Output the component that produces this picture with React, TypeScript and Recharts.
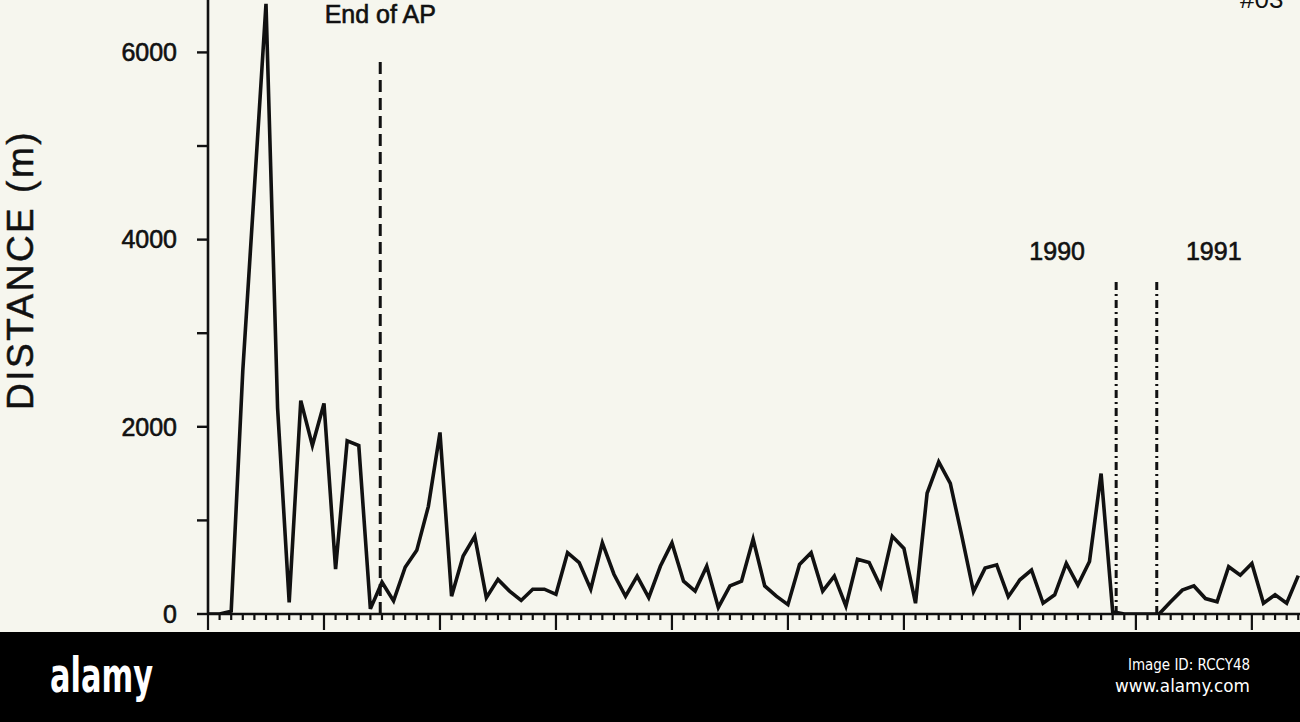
import React from "react";
import { LineChart, Line, XAxis, YAxis, ReferenceLine } from "recharts";

// distance (m) per sample left to right
const distances = [
  0, 0, 30, 2600, 4550, 6520, 2200, 125, 2280, 1800,
  2250, 480, 1850, 1800, 55, 340, 140, 500, 680, 1150,
  1940, 190, 620, 830, 175, 370, 245, 145, 265, 265,
  210, 655, 550, 265, 760, 425, 190, 405, 175, 510,
  760, 350, 245, 510, 70, 300, 350, 800, 300, 190,
  100, 530, 655, 245, 405, 85, 585, 550, 290, 830,
  700, 115, 1290, 1625, 1395, 830, 240, 490, 525, 185,
  365, 470, 115, 205, 540, 310, 560, 1500, 25, 0,
  0, 0, 0, 130, 255, 300, 165, 130, 505, 415,
  540, 115, 205, 115, 410,
];

const yTicks = [0, 1000, 2000, 3000, 4000, 5000, 6000];
const yLabelled = [0, 2000, 4000, 6000];

// vertical markers: position on sample axis, top of the line, label
const markers = [
  { x: 14.85, top: 5960, label: "End of AP", dash: "12 6", dx: 0, dy: -33 },
  { x: 78.3, top: 3565, label: "1990", dash: "8 4 2 4", dx: -59, dy: -20 },
  { x: 81.8, top: 3565, label: "1991", dash: "8 4 2 4", dx: 57, dy: -20 },
];

const data = distances.map((d, i) => ({ idx: i, distance: d }));
const xTicks = distances.map((_, i) => i);

const INK = "#111";
const FONT = "'Liberation Sans', Arial, Helvetica, sans-serif";
const NARROW = "'Liberation Sans Narrow', 'DejaVu Sans Condensed', 'Liberation Sans', sans-serif";

function XTick(props: any) {
  const { x, y, payload } = props;
  const major = payload.value % 10 === 0;
  return (
    <line x1={x} x2={x} y1={y} y2={y + (major ? 16 : 6)} stroke={INK} strokeWidth={2.2} />
  );
}

function markerLabel(text: string, dx: number, dy: number) {
  return (props: any) => {
    const vb = props.viewBox || {};
    return (
      <text
        x={vb.x + dx}
        y={vb.y + dy}
        textAnchor="middle"
        fontSize={25}
        fontFamily={FONT}
        fill={INK}
        stroke={INK}
        strokeWidth={0.6}
      >
        {text}
      </text>
    );
  };
}

export default function App() {
  return (
    <div
      style={{
        position: "absolute",
        left: 0,
        top: 0,
        width: 1300,
        height: 722,
        background: "#f6f6ee",
        overflow: "hidden",
      }}
    >
      <LineChart
        width={1300}
        height={632}
        data={data}
        margin={{ top: 0, right: 0, bottom: 0, left: 0 }}
      >
        <XAxis
          dataKey="idx"
          type="number"
          domain={[0, 94.15]}
          ticks={xTicks}
          interval={0}
          height={18}
          tickSize={0}
          tickMargin={0}
          tickLine={false}
          tick={<XTick />}
          axisLine={{ stroke: INK, strokeWidth: 2.6 }}
          allowDataOverflow
        />
        <YAxis
          type="number"
          domain={[0, 6560]}
          ticks={yTicks}
          interval={0}
          width={208}
          tickSize={11}
          tickMargin={20}
          tickFormatter={(v: number) => (yLabelled.includes(v) ? String(v) : "")}
          tick={{ fontSize: 25, fill: INK, fontFamily: FONT, stroke: INK, strokeWidth: 0.6 }}
          tickLine={{ stroke: INK, strokeWidth: 2.4 }}
          axisLine={{ stroke: INK, strokeWidth: 2.6 }}
          allowDataOverflow
          label={{
            value: "DISTANCE (m)",
            angle: -90,
            position: "insideLeft",
            offset: 0,
            dx: 20,
            dy: -37,
            style: {
              fontSize: 37,
              fill: INK,
              stroke: INK,
              strokeWidth: 0.5,
              fontFamily: FONT,
              textAnchor: "middle",
              letterSpacing: 2.5,
            },
          }}
        />
        {markers.map((m) => (
          <ReferenceLine
            key={m.label}
            segment={[
              { x: m.x, y: 0 },
              { x: m.x, y: m.top },
            ]}
            stroke={INK}
            strokeWidth={3}
            strokeDasharray={m.dash}
            label={markerLabel(m.label, m.dx, m.dy)}
          />
        ))}
        <Line
          type="linear"
          dataKey="distance"
          stroke={INK}
          strokeWidth={3.6}
          strokeLinejoin="miter"
          dot={false}
          activeDot={false}
          isAnimationActive={false}
        />
      </LineChart>
      <svg
        width={1300}
        height={40}
        style={{ position: "absolute", left: 0, top: 0 }}
      >
        <text x={1240} y={8} fontSize={26} fontFamily={FONT} fill={INK}>
          #03
        </text>
      </svg>
      <svg
        width={1300}
        height={90}
        style={{ position: "absolute", left: 0, top: 632, background: "#000" }}
      >
        <rect x={0} y={0} width={1300} height={90} fill="#000" />
        <text
          x={50}
          y={60}
          fontSize={48}
          fontWeight="bold"
          fontFamily={NARROW}
          fill="#fff"
          textLength={103}
          lengthAdjust="spacingAndGlyphs"
        >
          alamy
        </text>
        <text
          x={1128}
          y={38}
          fontSize={16}
          fontFamily={NARROW}
          fill="#fff"
          textLength={122}
          lengthAdjust="spacingAndGlyphs"
        >
          Image ID: RCCY48
        </text>
        <text
          x={1115}
          y={60}
          fontSize={18}
          fontFamily={NARROW}
          fill="#fff"
          textLength={135}
          lengthAdjust="spacingAndGlyphs"
        >
          www.alamy.com
        </text>
      </svg>
    </div>
  );
}
